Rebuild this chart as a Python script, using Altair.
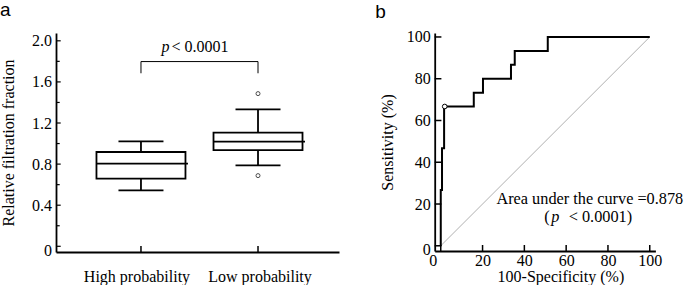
import altair as alt
import pandas as pd

# ---------------- Panel a data (box plot summary) ----------------
categories = ["High probability", "Low probability"]
cat_pos = [1, 2]
q1 = [0.659, 0.937]
median = [0.805, 1.019]
q3 = [0.918, 1.107]
whisker_lo = [0.545, 0.788]
whisker_hi = [1.022, 1.333]
outlier_pos = [2, 2]
outlier_val = [1.486, 0.688]
bracket_low = [1.684, 1.684]
bracket_high = [1.798, 1.798]
y_major_a = [0, 0.4, 0.8, 1.2, 1.6, 2.0]
y_minor_a = [0.2, 0.6, 1.0, 1.4, 1.8]

# ---------------- Panel b data (ROC curve) ----------------
roc_fpr = [0, 0, 0.6, 0.6, 1.6, 1.6, 15.8, 15.8, 20.2, 20.2, 33.6, 33.6, 35.4, 35.4, 51.2, 51.2, 100]
roc_tpr = [0, 26.7, 26.7, 46.7, 46.7, 66.7, 66.7, 73.3, 73.3, 80, 80, 86.7, 86.7, 93.3, 93.3, 100, 100]
cut_fpr = [1.9]
cut_tpr = [66.7]
diag = [0, 100]
ticks_b = [0, 20, 40, 60, 80, 100]

SERIF = "Liberation Serif"
SANS = "Liberation Sans"
LW = 1.8

# ======================= Panel a =======================
WA, HA = 283, 219
xs_a = alt.Scale(domain=[0.274, 2.692], nice=False, zero=False)
ys_a = alt.Scale(domain=[-0.0555, 2.076], nice=False, zero=False)

box_df = pd.DataFrame({"pos": cat_pos, "cat": categories, "q1": q1, "med": median,
                       "q3": q3, "lo": whisker_lo, "hi": whisker_hi,
                       "blo": bracket_low, "bhi": bracket_high})
out_df = pd.DataFrame({"pos": outlier_pos, "v": outlier_val})
ymaj_df = pd.DataFrame({"v": y_major_a})
ymin_df = pd.DataFrame({"v": y_minor_a})

xa_axis = alt.Axis(values=cat_pos, labelExpr="datum.value == 1 ? '%s' : '%s'" % tuple(categories),
                   title=None, labelPadding=16.5, tickSize=0,
                   labelOffset={"condition": {"test": "datum.value == 1", "value": -4.5}, "value": 1.5})
ya_axis = alt.Axis(values=y_major_a, labelExpr="datum.value == 0 ? '0' : format(datum.value, '.1f')",
                   title="Relative filtration fraction", labelPadding=4.5, tickSize=0, titlePadding=15,
                   labelOffset={"condition": {"test": "datum.value == 0", "value": 4}, "value": 0})

XA = alt.X("pos:Q", scale=xs_a, axis=xa_axis)


def YA(f):
    return alt.Y(f, scale=ys_a, axis=ya_axis)


base_a = alt.Chart(box_df)

wh_up = base_a.mark_rule(color="black", strokeWidth=LW).encode(x=XA, y=YA("q3:Q"), y2="hi:Q")
wh_dn = base_a.mark_rule(color="black", strokeWidth=LW).encode(x=XA, y=YA("lo:Q"), y2="q1:Q")
cap_up = base_a.mark_rule(color="black", strokeWidth=LW, xOffset=-22.5, x2Offset=22.5).encode(
    x=XA, x2="pos:Q", y=YA("hi:Q"))
cap_dn = base_a.mark_rule(color="black", strokeWidth=LW, xOffset=-22.5, x2Offset=22.5).encode(
    x=XA, x2="pos:Q", y=YA("lo:Q"))
box = base_a.mark_rect(fill="white", stroke="black", strokeWidth=LW, xOffset=-44.5, x2Offset=44.5).encode(
    x=XA, x2="pos:Q", y=YA("q1:Q"), y2="q3:Q")
med = base_a.mark_rule(color="black", strokeWidth=LW, xOffset=-44.5, x2Offset=47).encode(
    x=XA, x2="pos:Q", y=YA("med:Q"))
outl = alt.Chart(out_df).mark_point(shape="circle", filled=False, color="black", size=16, strokeWidth=1).encode(
    x=XA, y=YA("v:Q"))

br_v = base_a.mark_rule(color="black", strokeWidth=1).encode(x=XA, y=YA("blo:Q"), y2="bhi:Q")
br_h = base_a.mark_rule(color="black", strokeWidth=1).encode(
    x=alt.X("min(pos):Q", scale=xs_a, axis=xa_axis), x2="max(pos):Q", y=YA("max(bhi):Q"))

p_a = alt.Chart(pd.DataFrame({"t": ["p"]})).mark_text(
    font=SERIF, fontSize=16, fontStyle="italic", align="left", baseline="alphabetic", color="black"
).encode(x=alt.value(105.5), y=alt.value(18.5), text="t:N")
p_a2 = alt.Chart(pd.DataFrame({"t": ["< 0.0001"]})).mark_text(
    font=SERIF, fontSize=16, align="left", baseline="alphabetic", color="black"
).encode(x=alt.value(115.5), y=alt.value(18.5), text="t:N")

ymaj_t = alt.Chart(ymaj_df).mark_rule(color="black", strokeWidth=1.2).encode(
    y=YA("v:Q"), x=alt.value(0), x2=alt.value(4.7))
ymin_t = alt.Chart(ymin_df).mark_rule(color="black", strokeWidth=1.2).encode(
    y=YA("v:Q"), x=alt.value(0), x2=alt.value(3.7))
xa_t = base_a.mark_rule(color="black", strokeWidth=1.5).encode(
    x=XA, y=alt.value(HA), y2=alt.value(HA - 6))

lab_a = alt.Chart(pd.DataFrame({"t": ["a"]})).mark_text(
    font=SANS, fontSize=19, align="left", baseline="alphabetic", color="black"
).encode(x=alt.value(-56), y=alt.value(-16.7), text="t:N")

panel_a = alt.layer(wh_up, wh_dn, cap_up, cap_dn, box, med, outl, br_v, br_h,
                    p_a, p_a2, ymaj_t, ymin_t, xa_t, lab_a).properties(width=WA, height=HA)

# ======================= Panel b =======================
WB, HB = 220.7, 218
xs_b = alt.Scale(domain=[-2.9, 102.7], nice=False, zero=False)
ys_b = alt.Scale(domain=[-2.5, 101.9], nice=False, zero=False)

roc_df = pd.DataFrame({"i": list(range(len(roc_fpr))), "fpr": roc_fpr, "tpr": roc_tpr})
cut_df = pd.DataFrame({"fpr": cut_fpr, "tpr": cut_tpr})
diag_df = pd.DataFrame({"fpr": diag, "tpr": diag})
tick_df = pd.DataFrame({"v": ticks_b})

xb_axis = alt.Axis(values=ticks_b, title="100-Specificity (%)", labelPadding=1, tickSize=0,
                   titleX=125.7, titleY=30.5, titleAlign="center", titleBaseline="alphabetic",
                   labelOffset={"condition": {"test": "datum.value == 0", "value": -8}, "value": 0})
yb_axis = alt.Axis(values=ticks_b, title="Sensitivity (%)", labelPadding=4.5, tickSize=0, titlePadding=11,
                   labelOffset={"condition": {"test": "datum.value == 0", "value": 3.5}, "value": 0})


def XB(f):
    return alt.X(f, scale=xs_b, axis=xb_axis)


def YB(f):
    return alt.Y(f, scale=ys_b, axis=yb_axis)


diag_l = alt.Chart(diag_df).mark_line(color="#b0b0b0", strokeWidth=1).encode(
    x=XB("fpr:Q"), y=YB("tpr:Q"))
roc_l = alt.Chart(roc_df).mark_line(color="black", strokeWidth=2, interpolate="linear").encode(
    x=XB("fpr:Q"), y=YB("tpr:Q"), order="i:Q")
cut_p = alt.Chart(cut_df).mark_point(shape="circle", filled=True, fill="white", stroke="black",
                                     size=22, strokeWidth=1, opacity=1).encode(
    x=XB("fpr:Q"), y=YB("tpr:Q"))
yb_t = alt.Chart(tick_df).mark_rule(color="black", strokeWidth=1.5).encode(
    y=YB("v:Q"), x=alt.value(0), x2=alt.value(6.7))
xb_t = alt.Chart(tick_df).mark_rule(color="black", strokeWidth=1.5).encode(
    x=XB("v:Q"), y=alt.value(HB), y2=alt.value(HB - 6))

auc1 = alt.Chart(pd.DataFrame({"t": ["Area under the curve =0.878"]})).mark_text(
    font=SERIF, fontSize=16.3, align="left", baseline="alphabetic", color="black"
).encode(x=alt.value(61.7), y=alt.value(171.3), text="t:N")
auc2a = alt.Chart(pd.DataFrame({"t": ["("]})).mark_text(
    font=SERIF, fontSize=16.3, align="left", baseline="alphabetic", color="black"
).encode(x=alt.value(109.5), y=alt.value(189), text="t:N")
auc2b = alt.Chart(pd.DataFrame({"t": ["p"]})).mark_text(
    font=SERIF, fontSize=16.3, fontStyle="italic", align="left", baseline="alphabetic", color="black"
).encode(x=alt.value(116.5), y=alt.value(189), text="t:N")
auc2c = alt.Chart(pd.DataFrame({"t": ["< 0.0001)"]})).mark_text(
    font=SERIF, fontSize=16.3, align="left", baseline="alphabetic", color="black"
).encode(x=alt.value(134), y=alt.value(189), text="t:N")

lab_b = alt.Chart(pd.DataFrame({"t": ["b"]})).mark_text(
    font=SANS, fontSize=19, align="left", baseline="alphabetic", color="black"
).encode(x=alt.value(-59.5), y=alt.value(-15), text="t:N")

panel_b = alt.layer(diag_l, roc_l, cut_p, yb_t, xb_t, auc1, auc2a, auc2b, auc2c, lab_b).properties(
    width=WB, height=HB)

chart = alt.hconcat(panel_a, panel_b, spacing=95.7, bounds="flush").properties(
    padding={"left": 0, "top": 1, "right": 0, "bottom": 0}
).configure_view(stroke=None).configure_axis(
    domainColor="black", domainWidth=LW, ticks=False, grid=False,
    labelFont=SERIF, labelFontSize=16, labelColor="black",
    titleFont=SERIF, titleFontSize=16, titleFontWeight="normal", titleColor="black",
)

chart.save("out.html", embed_options={"renderer": "svg", "actions": False})
